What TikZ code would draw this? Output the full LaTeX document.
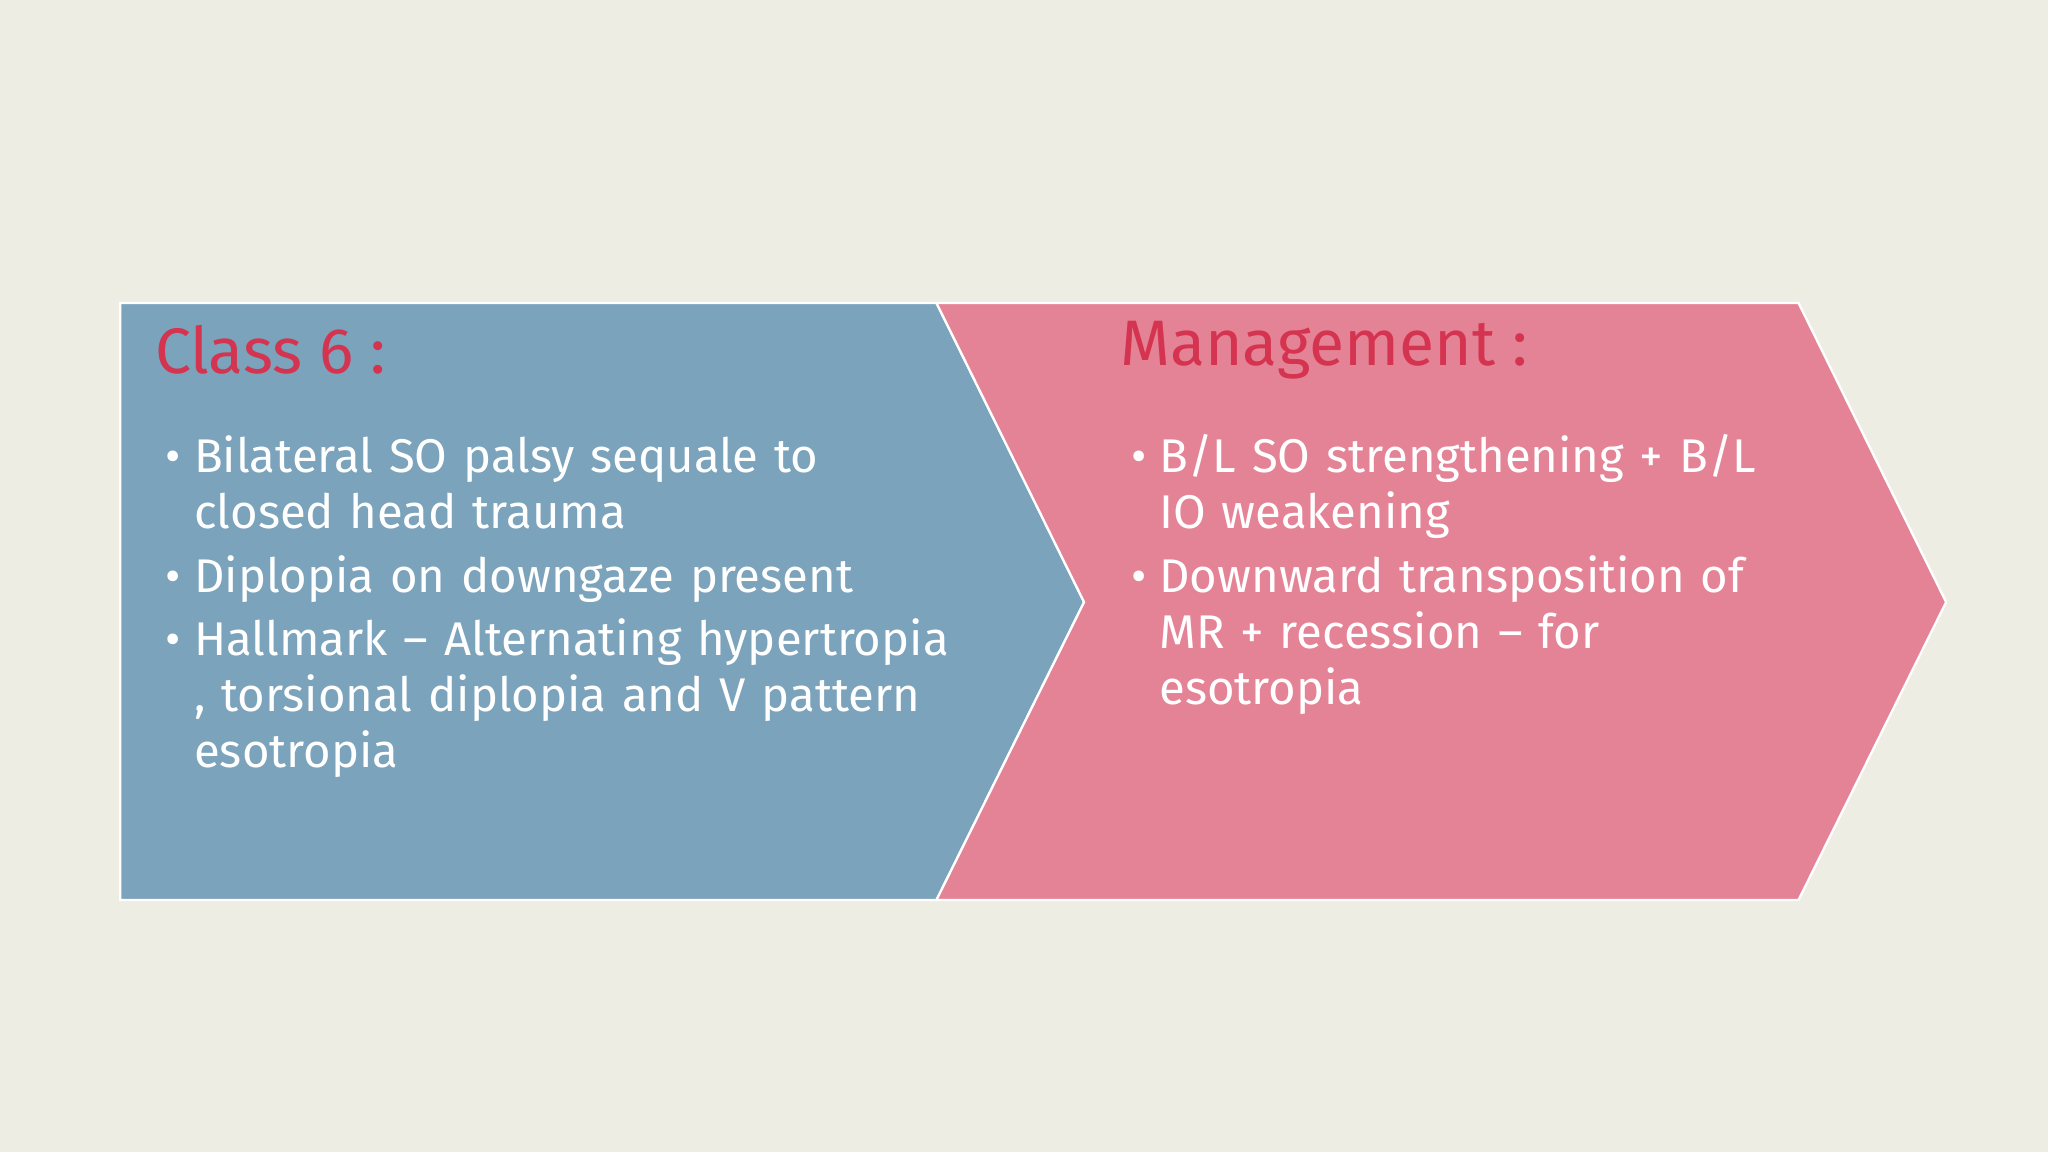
\documentclass[tikz,border=0pt]{standalone}
\usepackage{fontspec}
\setmainfont{Fira Sans}
\definecolor{bg}{HTML}{EEEDE3}
\definecolor{blu}{HTML}{7BA3BC}
\definecolor{pnk}{HTML}{E58396}
\definecolor{ttl}{HTML}{D4344F}
\begin{document}
\begin{tikzpicture}[x=0.1mm,y=-0.1mm,
  ttlstyle/.style={anchor=west,text=ttl,font=\fontsize{14}{16}\selectfont,inner sep=0},
  body/.style={anchor=north west,text=white,font=\fontsize{10.3}{12.2}\selectfont,inner sep=0,text width=#1,align=left},
  chev/.style={draw=white,line width=0.5pt}]
\fill[bg] (0,0) rectangle (1568,882);
\useasboundingbox (0,0) rectangle (1568,882);
\filldraw[chev,fill=blu] (92,232) -- (717,232) -- (830,461) -- (717,689) -- (92,689) -- cycle;
\filldraw[chev,fill=pnk] (717,232) -- (1377,232) -- (1490,461) -- (1377,689) -- (717,689) -- (830,461) -- cycle;
\node[ttlstyle] (t1) at (118,268) {Class 6 :};
\node[ttlstyle] (t2) at (857,268) {Management :};
\newcommand{\bl}[1]{\item #1}
\node[body=6.2cm] (b1) at (125,318) {%
\begin{list}{\textbullet}{\leftmargin=2.3mm\labelwidth=2mm\labelsep=1mm\itemsep=0.6mm\parsep=0pt\topsep=0pt}
\item Bilateral SO palsy sequale to closed head trauma
\item Diplopia on downgaze present
\item Hallmark – Alternating hypertropia , torsional diplopia and V pattern esotropia
\end{list}};
\node[body=5.0cm] (b2) at (864,318) {%
\begin{list}{\textbullet}{\leftmargin=2.3mm\labelwidth=2mm\labelsep=1mm\itemsep=0.6mm\parsep=0pt\topsep=0pt}
\item B/L SO strengthening + B/L IO weakening
\item Downward transposition of MR + recession – for esotropia
\end{list}};
\end{tikzpicture}
\end{document}
